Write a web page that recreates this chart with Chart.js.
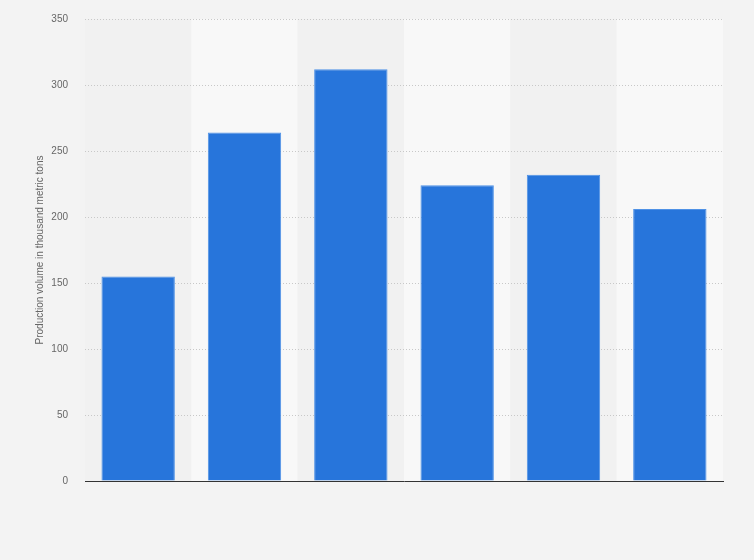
<!DOCTYPE html>
<html>
<head>
<meta charset="utf-8">
<script src="https://cdn.jsdelivr.net/npm/chart.js@4"></script>
<style>
  html, body { margin: 0; padding: 0; background: #f3f3f3; }
  #wrap { width: 754px; height: 560px; }
</style>
</head>
<body>
<div id="wrap"><canvas id="myChart" width="754" height="560"></canvas></div>
<script>
// six unlabeled columns
const categories = ['1', '2', '3', '4', '5', '6'];
const production = [155, 264, 312, 224, 232, 206];
const yTicks = [0, 50, 100, 150, 200, 250, 300, 350];

const bandColors = ['#f1f1f1', '#f8f8f8'];

// alternating column bands behind the bars
const bands = {
  id: 'bands',
  beforeDraw(chart) {
    const { ctx, chartArea, scales } = chart;
    const x = scales.x;
    const w = (chartArea.right - chartArea.left) / categories.length;
    ctx.save();
    categories.forEach((c, i) => {
      const cx = x.getPixelForValue(i);
      ctx.fillStyle = bandColors[i % 2];
      ctx.fillRect(cx - w / 2, chartArea.top, w, chartArea.bottom - chartArea.top);
    });
    ctx.restore();
  }
};

new Chart(document.getElementById('myChart').getContext('2d'), {
  type: 'bar',
  data: {
    labels: categories,
    datasets: [{
      data: production,
      backgroundColor: '#2775db',
      borderColor: '#4f92e6',
      borderWidth: 1,
      barPercentage: 0.69,
      categoryPercentage: 1
    }]
  },
  options: {
    responsive: false,
    animation: false,
    layout: { padding: { top: 19, right: 31, bottom: 71, left: 0 } },
    plugins: { legend: { display: false }, tooltip: { enabled: false } },
    scales: {
      x: {
        grid: { display: false },
        border: { color: '#333', width: 1 },
        ticks: { display: false }
      },
      y: {
        min: 0,
        max: 350,
        afterBuildTicks: s => { s.ticks = yTicks.map(v => ({ value: v })); },
        afterFit: s => { s.width = 85; s.paddingTop = 0; s.paddingBottom = 0; },
        border: { display: false, dash: [1, 2] },
        grid: { color: '#c8c8c8', drawTicks: false },
        ticks: {
          padding: 17,
          color: '#666',
          font: { family: 'Liberation Sans, Arial, sans-serif', size: 10 }
        },
        title: {
          display: true,
          text: 'Production volume in thousand metric tons',
          color: '#666',
          padding: { top: 34, bottom: 0 },
          font: { family: 'Liberation Sans, Arial, sans-serif', size: 10 }
        }
      }
    }
  },
  plugins: [bands]
});
</script>
</body>
</html>
